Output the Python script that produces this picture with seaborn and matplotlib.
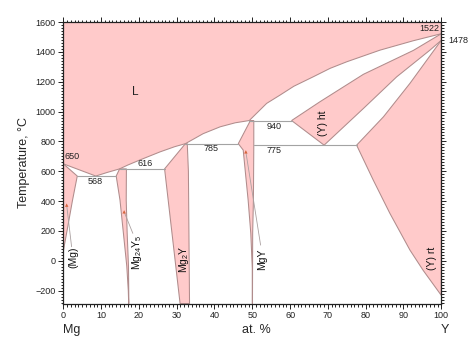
import numpy as np
import pandas as pd
import matplotlib
matplotlib.use("Agg")
import matplotlib.pyplot as plt
import matplotlib.transforms as mtransforms
from matplotlib.ticker import MultipleLocator
import seaborn as sns

# ---- Mg-Y phase diagram data (at.% Y, temperature in degC) ----
# liquidus, from pure Mg up to pure Y
liq_x = [0, 8.6, 11.6, 14.9, 17.0, 20.3, 25.6, 29.5, 32.3, 37.0, 41.5, 45.5, 49.2,
         53.8, 57.3, 61.0, 66.1, 70.6, 75.0, 83.8, 92.6, 100]
liq_t = [650, 568, 592, 616, 641, 676, 730, 765, 785, 852, 898, 925, 940,
         1055, 1110, 1170, 1233, 1290, 1334, 1412, 1475, 1522]

# (Mg) solid solution: solidus then solvus
mg_x = [0, 3.7, 2.4, 1.2, 0.3, 0]
mg_t = [650, 568, 400, 230, 105, 60]

# Mg24Y5: left boundary (top-down) and right boundary (top-down)
m24_left_x = [14.9, 14.0, 15.0, 15.9, 16.8, 17.2, 17.3]
m24_left_t = [616, 568, 407, 186, -36, -200, -287]
m24_right_x = [16.7, 16.65, 16.9, 17.25, 17.35]
m24_right_t = [616, 407, 186, -36, -287]

# Mg2Y
m2_left_x = [32.3, 26.8, 30.9]
m2_left_t = [785, 616, -287]
m2_right_x = [32.8, 33.1, 33.4]
m2_right_t = [785, 600, -287]

# MgY
my_left_x = [49.5, 46.3, 47.6, 48.3, 48.9, 49.6, 50.0, 50.0]
my_left_t = [940, 785, 742, 560, 407, 186, -50, -287]
my_right_x = [50.4, 50.4, 50.3, 50.1, 50.05]
my_right_t = [940, 775, 407, 186, -287]

# (Y) high-temperature form
yht_upper_x = [60.4, 67.9, 79.4, 92.6, 100]
yht_upper_t = [940, 1066, 1250, 1410, 1522]
yht_lower_x = [69.0, 79.4, 88.2, 97.0, 100]
yht_lower_t = [775, 1021, 1233, 1412, 1478]

# (Y) room-temperature form
yrt_upper_x = [77.6, 84.7, 91.7, 100]
yrt_upper_t = [775, 965, 1189, 1478]
yrt_lower_x = [77.6, 82.0, 86.4, 91.7, 95.2, 100]
yrt_lower_t = [775, 541, 318, 72, -64, -232]

# invariant reactions
inv_temp = [568, 616, 785, 940, 775]
inv_x0 = [3.7, 14.9, 32.3, 49.2, 50.4]
inv_x1 = [14.0, 26.8, 46.3, 60.4, 77.6]
inv_label_x = [8.5, 21.7, 39.0, 55.7, 55.7]
inv_label_t = [530, 655, 750, 902, 737]

T_MIN, T_MAX = -287, 1600

PINK = "#ffcaca"
EDGE = "#b08c8c"
GREY = "#a3a3a3"

sns.set_theme(style="ticks")
plt.rcParams["font.family"] = ["Liberation Sans", "DejaVu Sans"]
plt.rcParams["mathtext.default"] = "regular"

fig = plt.figure(figsize=(4.74, 3.45), dpi=100)
ax = fig.add_axes([0.1335, 0.12, 0.7975, 0.816])


def region(xs, ts):
    ax.fill(xs, ts, facecolor=PINK, edgecolor=EDGE, linewidth=0.75, zorder=1)


# liquid
region([0] + liq_x + [100, 0], [T_MAX] + liq_t + [T_MAX, T_MAX])
# (Mg)
region(mg_x, mg_t)
# Mg24Y5
region(m24_left_x + m24_right_x[::-1], m24_left_t + m24_right_t[::-1])
# Mg2Y
region(m2_left_x + m2_right_x[::-1], m2_left_t + m2_right_t[::-1])
# MgY
region(my_left_x + my_right_x[::-1], my_left_t + my_right_t[::-1])
# (Y) ht
region(yht_upper_x + yht_lower_x[::-1], yht_upper_t + yht_lower_t[::-1])
# (Y) rt
region(yrt_lower_x[::-1] + yrt_upper_x + [100], yrt_lower_t[::-1] + yrt_upper_t + [-232])

# invariant lines
inv = pd.DataFrame({"x": inv_x0 + inv_x1, "t": inv_temp + inv_temp,
                    "r": list(range(5)) * 2})
for r, grp in inv.groupby("r"):
    sns.lineplot(data=grp, x="x", y="t", ax=ax, color=GREY, lw=0.8,
                 estimator=None, sort=False, zorder=2)

for tx, tt, val in zip(inv_label_x, inv_label_t, inv_temp):
    ax.text(tx, tt, str(val), fontsize=6.5, ha="center", va="center", color="#222")

ax.text(0.4, 700, "650", fontsize=6.5, ha="left", va="center", color="#222")
ax.text(99.6, 1560, "1522", fontsize=6.5, ha="right", va="center", color="#222")
ax.text(101.8, 1478, "1478", fontsize=6.5, ha="left", va="center", color="#222",
        clip_on=False)
ax.text(19, 1130, "L", fontsize=8.5, ha="center", va="center", color="#222")

# phase labels
phase_names = ["(Mg)", "Mg$_{24}$Y$_5$", "Mg$_2$Y", "MgY", "(Y) ht", "(Y) rt"]
phase_x = [2.6, 19.6, 31.9, 52.7, 68.6, 97.5]
phase_t = [25, 60, 10, 11, 922, 18]
for name, px, pt in zip(phase_names, phase_x, phase_t):
    ax.text(px, pt, name, fontsize=7.5, rotation=90, ha="center", va="center",
            color="#111")

# leader lines from labels into narrow phase fields
lead_x0 = [2.2, 18.4, 52.2]
lead_t0 = [94, 184, 105]
lead_x1 = [0.9, 16.1, 48.3]
lead_t1 = [373, 328, 730]
for x0, t0, x1, t1 in zip(lead_x0, lead_t0, lead_x1, lead_t1):
    sns.lineplot(x=[x0, x1], y=[t0, t1], ax=ax, color="#aaa0a0", lw=0.6,
                 estimator=None, sort=False, zorder=3)
sns.scatterplot(x=lead_x1, y=lead_t1, ax=ax, marker="^", s=6, color="#d8643c",
                edgecolor="none", zorder=4)

ax.set_xlim(0, 100)
ax.set_ylim(T_MIN, T_MAX)
ax.xaxis.set_major_locator(MultipleLocator(10))
ax.xaxis.set_minor_locator(MultipleLocator(1))
ax.yaxis.set_major_locator(MultipleLocator(200))
ax.yaxis.set_minor_locator(MultipleLocator(20))
ax.set_yticks(range(-200, 1601, 200))
ax.tick_params(which="both", top=True, right=True, direction="out",
               labelsize=6.5, colors="#222", width=0.7)
ax.tick_params(which="major", length=3.5, pad=2)
ax.tick_params(which="minor", length=1.8)
for sp in ax.spines.values():
    sp.set_linewidth(0.9)
    sp.set_color("#222")
    sp.set_visible(True)

ax.set_xlabel("")
ax.set_ylabel("Temperature, °C", fontsize=9, labelpad=4)

trans = mtransforms.blended_transform_factory(ax.transData, ax.transAxes)
ax.text(0, -0.094, "Mg", transform=trans, fontsize=9, ha="left", va="center")
ax.text(51, -0.094, "at. %", transform=trans, fontsize=9, ha="center", va="center")
ax.text(101, -0.094, "Y", transform=trans, fontsize=9, ha="center", va="center")

fig.savefig("out.png", dpi=100)
